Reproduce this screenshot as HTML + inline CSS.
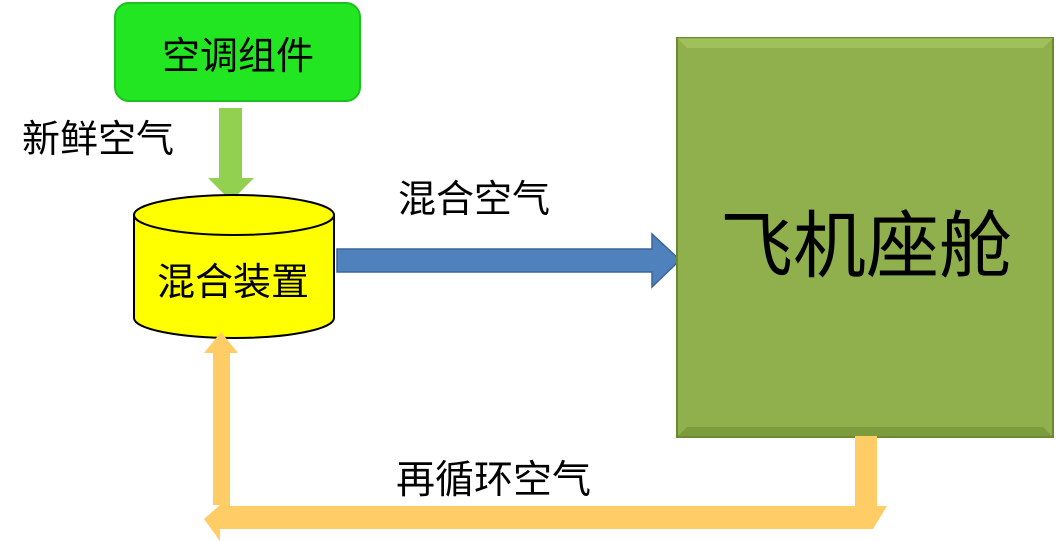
<!DOCTYPE html>
<html><head><meta charset="utf-8"><style>
html,body{margin:0;padding:0;background:#fff;}
svg{display:block;}
text{font-family:"Liberation Sans","Noto Sans CJK SC",sans-serif;fill:#000;}
</style></head><body>
<svg width="1060" height="541" viewBox="0 0 1060 541" xmlns="http://www.w3.org/2000/svg">
<!-- green box -->
<rect x="115" y="3" width="245" height="98" rx="14" fill="#22e622" stroke="#1cc01c" stroke-width="2"/>
<text x="238" y="69" font-size="38" text-anchor="middle">空调组件</text>
<!-- green arrow -->
<polygon points="219,108 242,108 242,178 254,178 231,201 208,178 219,178" fill="#92d050"/>
<text x="22" y="152" font-size="38">新鲜空气</text>
<!-- cylinder -->
<path d="M134,215 L134,318 A100,20 0 0 0 334,318 L334,215 Z" fill="#ffff00" stroke="#000" stroke-width="2"/>
<ellipse cx="234" cy="215" rx="100" ry="20" fill="#ffff00" stroke="#000" stroke-width="2"/>
<text x="233" y="295" font-size="38" text-anchor="middle">混合装置</text>
<!-- blue arrow -->
<polygon points="337,249 652,249 652,234 680,260 652,287 652,272 337,272" fill="#4f81bd" stroke="#3a6698" stroke-width="1.5"/>
<text x="398" y="212" font-size="38">混合空气</text>
<!-- cabin -->
<rect x="677" y="38" width="376" height="399" fill="#8fb04c" stroke="#6a8a30" stroke-width="2"/>
<polygon points="677,38 1053,38 1043,48 687,48" fill="#a6c864" opacity="0.7"/>
<polygon points="677,437 1053,437 1043,427 687,427" fill="#6e8e34" opacity="0.6"/>
<text x="866" y="271" font-size="73" text-anchor="middle">飞机座舱</text>
<!-- orange recirculation -->
<polygon points="855,436 877,436 877,506 887,506 873,529 220,529 220,541 204,519 220,505 213,505 213,353 204,353 221,332 238,353 230,353 230,506 855,506" fill="#ffcc66"/>
<text x="396" y="493" font-size="39">再循环空气</text>
</svg>
</body></html>
